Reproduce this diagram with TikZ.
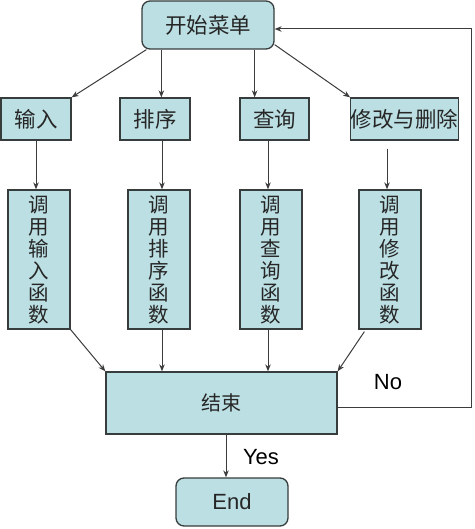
\documentclass[tikz,border=0pt]{standalone}
\usepackage{fontspec}
\setmainfont{Liberation Sans}
\newfontfamily\cjk{Noto Sans CJK SC}
\usetikzlibrary{arrows.meta}
\definecolor{boxfill}{RGB}{188,223,227}
\definecolor{edge}{RGB}{55,60,60}
\definecolor{wire}{RGB}{60,60,60}
\tikzset{
  box/.style={draw=edge, line width=1.3pt, fill=boxfill, inner sep=0pt, text=black!85},
  rbox/.style={box, rounded corners=8pt},
  cjkbig/.style={font=\cjk\fontsize{21.5}{22}\selectfont},
  coltext/.style={font=\cjk\fontsize{20.5}{22}\selectfont, align=center},
  arr/.style={draw=wire, line width=1pt, -{Stealth[length=7pt,width=5.5pt]}},
  lbl/.style={font=\fontsize{22}{24}\selectfont, inner sep=0pt}
}
\begin{document}
\begin{tikzpicture}[x=1pt,y=-1pt]
\useasboundingbox (0,0) rectangle (474,529);
\fill[white] (0,0) rectangle (474,529);
\node[rbox, cjkbig, minimum width=132pt, minimum height=48pt] (start) at (208,25) {开始菜单};
\node[box, cjkbig, minimum width=70pt, minimum height=42pt] (in) at (36,119) {输入};
\node[box, cjkbig, minimum width=70pt, minimum height=42pt] (so) at (155,119) {排序};
\node[box, cjkbig, minimum width=69pt, minimum height=42pt] (qu) at (274.5,119) {查询};
\node[box, cjkbig, minimum width=105pt, minimum height=42pt] (mo) at (404.5,119) {修改与删除};
\node[box, coltext, minimum width=62pt, minimum height=139pt] (c1) at (39,259.5) {调\\用\\输\\入\\函\\数};
\node[box, coltext, minimum width=62pt, minimum height=139pt] (c2) at (159,259.5) {调\\用\\排\\序\\函\\数};
\node[box, coltext, minimum width=62pt, minimum height=139pt] (c3) at (271,259.5) {调\\用\\查\\询\\函\\数};
\node[box, coltext, minimum width=62pt, minimum height=139pt] (c4) at (390,259.5) {调\\用\\修\\改\\函\\数};
\node[box, font=\cjk\fontsize{20}{22}\selectfont, minimum width=231pt, minimum height=62pt] (chk) at (221.5,403) {结束};
\node[rbox, font=\fontsize{22}{24}\selectfont, minimum width=112pt, minimum height=48pt] (end) at (232,502) {End};
\node[lbl] (no) at (388,382) {No};
\node[lbl] (yes) at (261,457) {Yes};
% start -> row 2
\draw[arr] ([xshift=5pt]start.south west) -- (in.north east);
\draw[arr] ([xshift=20pt]start.south west) -- ([xshift=20pt]start.south west |- so.north);
\draw[arr] ([xshift=-20pt]start.south east) -- ([xshift=-20pt]start.south east |- qu.north);
\draw[arr] ([yshift=5pt]start.south east) -- (mo.north west);
% row 2 -> columns
\draw[arr] (in.south) -- (in.south |- c1.north);
\draw[arr] ([xshift=3pt]c2.north |- so.south) -- ([xshift=3pt]c2.north);
\draw[arr] ([xshift=-3pt]c3.north |- qu.south) -- ([xshift=-3pt]c3.north);
\draw[arr] ([xshift=-3pt,yshift=-8pt]c4.north |- mo.south) -- ([xshift=-3pt]c4.north);
% columns -> check
\draw[arr] (c1.south east) -- (chk.north west);
\draw[arr] ([xshift=3pt]c2.south) -- ([xshift=3pt]c2.south |- chk.north);
\draw[arr] ([xshift=-3pt]c3.south) -- ([xshift=-3pt]c3.south |- chk.north);
\draw[arr] ([xshift=6pt,yshift=-2pt]c4.south west) -- (chk.north east);
% loop back
\coordinate (rt) at (471,0);
\coordinate (noA) at ([yshift=-4pt]chk.east);
\coordinate (noB) at ([yshift=-4pt]start.east);
\draw[arr] (noA) -- (noA -| rt) -- (rt |- noB) -- (noB);
% yes
\coordinate (yx) at (226,0);
\draw[arr] (chk.south -| yx) -- (end.north -| yx);
\end{tikzpicture}
\end{document}
